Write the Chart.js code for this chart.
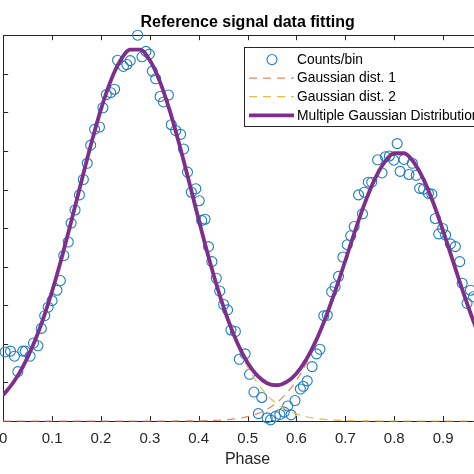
<!DOCTYPE html>
<html>
<head>
<meta charset="utf-8">
<script src="https://cdn.jsdelivr.net/npm/chart.js@4.4.1/dist/chart.umd.min.js"></script>
<style>
  html, body { margin: 0; padding: 0; background: #fff; overflow: hidden; }
  /* plot runs past the right edge, like the cropped original */
  #wrap { position: absolute; left: -2px; top: 0; width: 512px; height: 474px; }
</style>
</head>
<body>
<div id="wrap"><canvas id="myChart"></canvas></div>
<script>
// Counts/bin (phase of each bin, counts)
const binPhase = [
  0.004, 0.015, 0.023, 0.030, 0.040, 0.045, 0.055, 0.062, 0.071, 0.078,
  0.085, 0.092, 0.100, 0.110, 0.117, 0.124, 0.133, 0.139, 0.147, 0.156,
  0.164, 0.172, 0.179, 0.187, 0.197, 0.204, 0.211, 0.220, 0.228, 0.234,
  0.246, 0.253, 0.260, 0.275, 0.284, 0.292, 0.299, 0.305, 0.312, 0.321,
  0.328, 0.338, 0.344, 0.353, 0.363, 0.369, 0.377, 0.385, 0.394, 0.401,
  0.406, 0.413, 0.420, 0.427, 0.436, 0.443, 0.451, 0.459, 0.466, 0.475,
  0.483, 0.495, 0.504, 0.513, 0.522, 0.529, 0.540, 0.547, 0.557, 0.566,
  0.575, 0.582, 0.589, 0.597, 0.608, 0.614, 0.622, 0.632, 0.641, 0.648,
  0.656, 0.663, 0.672, 0.679, 0.686, 0.695, 0.704, 0.711, 0.718, 0.727,
  0.735, 0.739, 0.747, 0.754, 0.766, 0.775, 0.782, 0.790, 0.799, 0.806,
  0.812, 0.820, 0.830, 0.837, 0.845, 0.852, 0.860, 0.870, 0.877, 0.884,
  0.891, 0.899, 0.905, 0.915, 0.925, 0.934, 0.939, 0.949, 0.956, 0.962
];
const binCounts = [
  1.79, 1.81, 1.68, 1.28, 1.81, 1.81, 1.68, 2.02, 1.95, 2.40,
  2.73, 2.95, 3.12, 3.39, 3.64, 4.29, 4.64, 5.13, 5.47, 5.86,
  6.26, 6.68, 7.15, 7.56, 7.62, 8.12, 8.46, 8.51, 8.60, 9.35,
  9.19, 9.24, 9.34, 10.00, 9.44, 9.58, 9.51, 9.07, 8.87, 8.41,
  8.27, 8.45, 7.68, 7.53, 7.43, 7.05, 6.45, 5.93, 6.02, 5.71,
  5.20, 5.23, 4.52, 4.13, 3.70, 3.37, 3.02, 2.88, 2.36, 2.32,
  1.60, 1.74, 1.21, 0.75, 0.19, 0.61, 0.08, 0.03, 0.12, 0.17,
  0.23, 0.39, 0.16, 0.53, 0.83, 0.90, 1.04, 1.41, 1.74, 1.86,
  2.73, 2.74, 3.35, 3.48, 3.75, 4.25, 4.57, 4.80, 5.04, 5.86,
  5.37, 5.93, 6.19, 6.19, 6.77, 6.43, 6.85, 6.87, 6.76, 7.19,
  6.47, 6.78, 6.39, 6.68, 6.37, 6.03, 6.01, 5.90, 5.88, 5.25,
  4.85, 4.99, 4.82, 4.59, 4.52, 4.13, 3.57, 3.05, 3.39, 3.22
];

// fitted curves, sampled every 0.02 in phase
const fitPhase = [
  0.00, 0.02, 0.04, 0.06, 0.08, 0.10, 0.12, 0.14, 0.16, 0.18,
  0.20, 0.22, 0.24, 0.26, 0.28, 0.30, 0.32, 0.34, 0.36, 0.38,
  0.40, 0.42, 0.44, 0.46, 0.48, 0.50, 0.52, 0.54, 0.56, 0.58,
  0.60, 0.62, 0.64, 0.66, 0.68, 0.70, 0.72, 0.74, 0.76, 0.78,
  0.80, 0.82, 0.84, 0.86, 0.88, 0.90, 0.92, 0.94, 0.96, 0.98, 1.00
];
const gauss1 = [
  0, 0, 0, 0, 0, 0, 0, 0, 0, 0,
  0, 0, 0, 0, 0, 0, 0, 0, 0.001, 0.003,
  0.005, 0.010, 0.020, 0.037, 0.065, 0.113, 0.190, 0.306, 0.478, 0.722,
  1.052, 1.483, 2.019, 2.657, 3.378, 4.149, 4.926, 5.650, 6.262, 6.706,
  6.940, 6.940, 6.706, 6.262, 5.650, 4.926, 4.149, 3.378, 2.657, 2.019, 1.483
];
const gauss2 = [
  0.674, 0.985, 1.399, 1.930, 2.584, 3.362, 4.247, 5.211, 6.209, 7.186,
  8.077, 8.817, 9.348, 9.625, 9.625, 9.348, 8.817, 8.077, 7.186, 6.209,
  5.211, 4.247, 3.362, 2.584, 1.930, 1.399, 0.985, 0.674, 0.448, 0.289,
  0.181, 0.110, 0.065, 0.037, 0.021, 0.011, 0.006, 0.003, 0.001, 0,
  0, 0, 0, 0, 0, 0, 0, 0, 0, 0, 0
];
const multiGauss = [
  0.674, 0.985, 1.399, 1.930, 2.584, 3.362, 4.247, 5.211, 6.209, 7.186,
  8.077, 8.817, 9.348, 9.625, 9.625, 9.348, 8.817, 8.077, 7.187, 6.212,
  5.216, 4.257, 3.382, 2.621, 1.995, 1.512, 1.175, 0.980, 0.926, 1.011,
  1.233, 1.593, 2.084, 2.694, 3.399, 4.160, 4.932, 5.653, 6.263, 6.706,
  6.940, 6.940, 6.706, 6.262, 5.650, 4.926, 4.149, 3.378, 2.657, 2.019, 1.483
];

const FONT = "'Liberation Sans', Arial, Helvetica, sans-serif";
Chart.defaults.font.family = FONT;
Chart.defaults.color = "#262626";

const toXY = (xs, ys) => xs.map((x, i) => ({ x: x, y: ys[i] }));

// box around the axes with inward ticks (matlab style)
const axesBox = {
  id: "axesBox",
  beforeDatasetsDraw(chart) {
    const { ctx, chartArea: a, scales } = chart;
    const len = 5;
    ctx.save();
    ctx.strokeStyle = "#262626";
    ctx.lineWidth = 1;
    ctx.beginPath();
    scales.x.ticks.forEach((t) => {
      const px = Math.round(scales.x.getPixelForValue(t.value)) + 0.5;
      ctx.moveTo(px, a.bottom);
      ctx.lineTo(px, a.bottom - len);
      ctx.moveTo(px, a.top);
      ctx.lineTo(px, a.top + len);
    });
    scales.y.ticks.forEach((t) => {
      const py = Math.round(scales.y.getPixelForValue(t.value)) + 0.5;
      ctx.moveTo(a.left, py);
      ctx.lineTo(a.left + len, py);
      ctx.moveTo(a.right, py);
      ctx.lineTo(a.right - len, py);
    });
    ctx.stroke();
    ctx.strokeRect(Math.round(a.left) + 0.5, Math.round(a.top) + 0.5, Math.round(a.width), Math.round(a.height));
    ctx.restore();
  },
};

// legend box inside the plot, top right
const boxLegend = {
  id: "boxLegend",
  afterDraw(chart) {
    const { ctx } = chart;
    const bx = 246, by = 47, bw = 262, bh = 79;
    ctx.save();
    ctx.fillStyle = "#ffffff";
    ctx.fillRect(bx, by, bw, bh);
    ctx.strokeStyle = "#262626";
    ctx.lineWidth = 1;
    ctx.strokeRect(bx + 0.5, by + 0.5, bw, bh);
    ctx.font = "13.8px " + FONT;
    ctx.textBaseline = "middle";
    chart.data.datasets.forEach((ds, i) => {
      const rowY = by + 12.5 + i * 18.6;
      ctx.strokeStyle = ds.borderColor;
      ctx.lineWidth = ds.borderWidth;
      ctx.beginPath();
      if (ds.showLine === false) {
        ctx.arc(bx + 28, rowY, 5, 0, Math.PI * 2);
      } else {
        ctx.setLineDash(ds.borderDash || []);
        ctx.moveTo(bx + 5, rowY);
        ctx.lineTo(bx + 50, rowY);
      }
      ctx.stroke();
      ctx.setLineDash([]);
      ctx.fillStyle = "#000000";
      ctx.fillText(ds.label, bx + 53, rowY + 0.5);
    });
    ctx.restore();
  },
};

const ctx = document.getElementById("myChart").getContext("2d");
new Chart(ctx, {
  type: "line",
  data: {
    datasets: [
      {
        label: "Counts/bin",
        data: toXY(binPhase, binCounts),
        showLine: false,
        pointStyle: "circle",
        pointRadius: 5,
        pointBackgroundColor: "rgba(0,0,0,0)",
        borderColor: "#1f7dc0",
        pointBorderColor: "#1f7dc0",
        borderWidth: 1.1,
        pointBorderWidth: 1.1,
        clip: false,
        order: 3,
      },
      {
        label: "Gaussian dist. 1",
        data: toXY(fitPhase, gauss1),
        borderColor: "#e08a68",
        borderWidth: 1.2,
        borderDash: [8, 6],
        pointRadius: 0,
        cubicInterpolationMode: "monotone",
        clip: false,
        order: 2,
      },
      {
        label: "Gaussian dist. 2",
        data: toXY(fitPhase, gauss2),
        borderColor: "#ebbb45",
        borderWidth: 1.2,
        borderDash: [8, 6],
        pointRadius: 0,
        cubicInterpolationMode: "monotone",
        clip: false,
        order: 1,
      },
      {
        label: "Multiple Gaussian Distribution",
        data: toXY(fitPhase, multiGauss),
        borderColor: "#7e2f8e",
        borderWidth: 3.8,
        pointRadius: 0,
        cubicInterpolationMode: "monotone",
        order: 0,
      },
    ],
  },
  options: {
    responsive: true,
    maintainAspectRatio: false,
    animation: false,
    layout: { autoPadding: false, padding: { left: 0, right: 18, top: 0, bottom: 0 } },
    plugins: {
      legend: { display: false },
      tooltip: { enabled: false },
      title: {
        display: true,
        text: "Reference signal data fitting",
        fullSize: false,
        color: "#000000",
        font: { size: 16, weight: "bold", lineHeight: 1.2 },
        padding: { top: 13, bottom: 3 },
      },
    },
    scales: {
      x: {
        type: "linear",
        min: 0,
        max: 1,
        ticks: { stepSize: 0.1, padding: 1, font: { size: 15 }, maxRotation: 0, autoSkip: false },
        grid: { display: false },
        border: { display: false },
        title: { display: true, text: "Phase", font: { size: 16, lineHeight: 1.2 }, padding: { top: 0, bottom: 5 } },
        afterFit: (scale) => { scale.height = 53; },
      },
      y: {
        min: 0,
        max: 10,
        ticks: { display: false, stepSize: 1 },
        grid: { display: false },
        border: { display: false },
        afterFit: (scale) => { scale.width = 3; },
      },
    },
  },
  plugins: [axesBox, boxLegend],
});
</script>
</body>
</html>
